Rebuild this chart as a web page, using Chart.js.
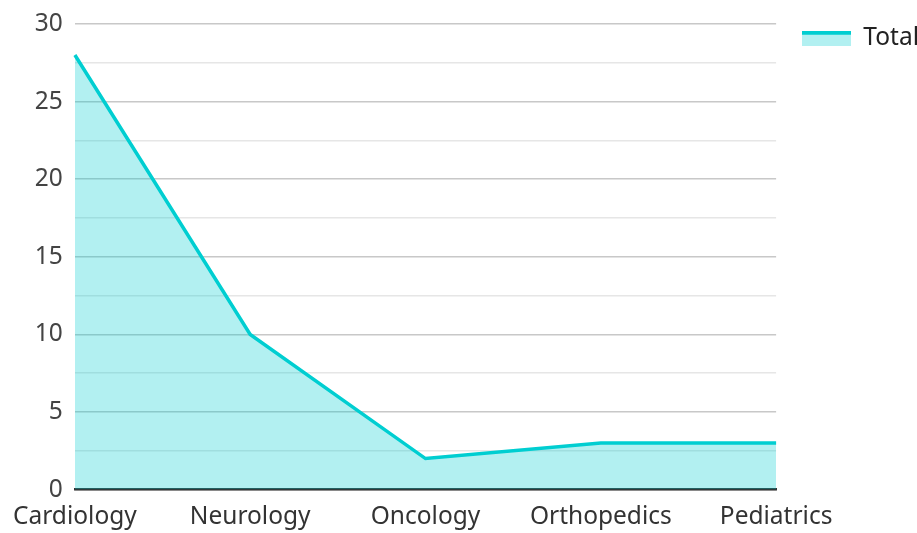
<!DOCTYPE html>
<html>
<head>
<meta charset="utf-8">
<script src="https://cdn.jsdelivr.net/npm/chart.js@4/dist/chart.umd.min.js"></script>
<style>
  html, body { margin: 0; padding: 0; background: #fff; overflow: hidden; }
  #wrap { width: 917px; height: 533px; }
</style>
</head>
<body>
<div id="wrap"><canvas id="deptChart"></canvas></div>
<script>
const departments = ['Cardiology', 'Neurology', 'Oncology', 'Orthopedics', 'Pediatrics'];
const totals = [28, 10, 2, 3, 3];
const seriesName = 'Total';
const yMax = 30;
const yStep = 2.5;

const lineColor = '#00CED1';
const fillColor = 'rgba(0, 206, 209, 0.3)';

// legend swatch: light box with the line along its top edge
const swatch = document.createElement('canvas');
swatch.width = 49;
swatch.height = 15;
const sctx = swatch.getContext('2d');
sctx.fillStyle = fillColor;
sctx.fillRect(0, 0, 49, 15);
sctx.fillStyle = lineColor;
sctx.fillRect(0, 0, 49, 4);

Chart.defaults.font.family = '"Noto Sans", "Open Sans", sans-serif';
Chart.defaults.font.size = 24.5;
Chart.defaults.color = '#333';

const ctx = document.getElementById('deptChart').getContext('2d');
new Chart(ctx, {
    type: 'line',
    data: {
        labels: departments,
        datasets: [{
            label: seriesName,
            data: totals,
            borderColor: lineColor,
            backgroundColor: fillColor,
            borderWidth: 3.5,
            fill: 'origin',
            tension: 0,
            pointRadius: 0,
            pointHoverRadius: 0,
        }],
    },
    options: {
        responsive: true,
        maintainAspectRatio: false,
        animation: false,
        layout: { padding: { top: 0, right: -12, bottom: 0, left: 7 } },
        plugins: {
            tooltip: { enabled: false },
            legend: {
                position: 'right',
                align: 'start',
                labels: {
                    usePointStyle: true,
                    pointStyle: swatch,
                    pointStyleWidth: 49,
                    boxHeight: 15,
                    padding: 26,
                    color: '#222',
                },
            },
        },
        scales: {
            x: {
                offset: false,
                grid: { display: false, drawTicks: false },
                border: { display: true, color: '#333', width: 2.5 },
                ticks: { maxRotation: 0, padding: 13, color: '#333' },
                // tick padding is counted twice in the axis height; take the extra back
                afterFit: (axis) => { axis.height -= 12; },
            },
            y: {
                min: 0,
                max: yMax,
                border: { display: false },
                grid: {
                    drawTicks: false,
                    color: (c) => (c.tick && c.tick.value % 5 === 0) ? '#c8c8c8' : '#e6e6e6',
                    lineWidth: 1.5,
                },
                ticks: {
                    stepSize: yStep,
                    padding: 12,
                    color: '#444',
                    callback: (v) => (v % 5 === 0 ? v : ''),
                },
                afterFit: (axis) => { axis.paddingTop = 24; axis.paddingBottom = 0; },
            },
        },
    },
});
</script>
</body>
</html>
